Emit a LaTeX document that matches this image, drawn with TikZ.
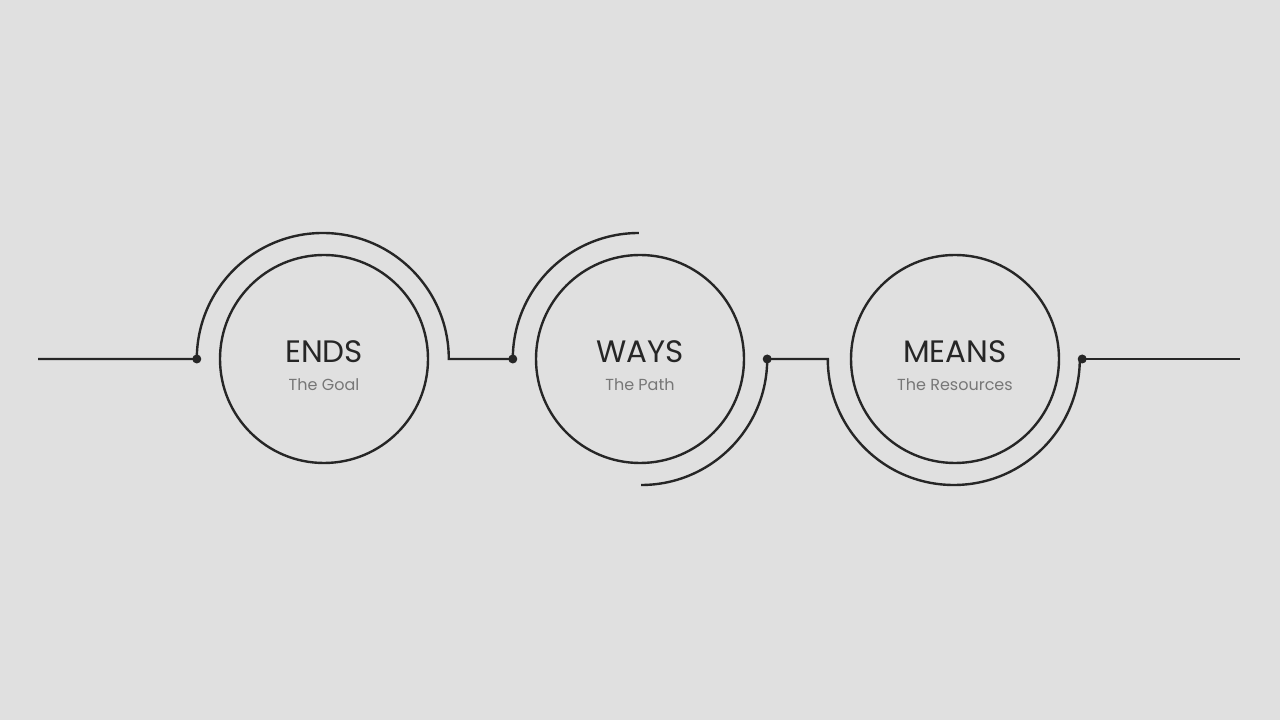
\documentclass[tikz,border=0pt]{standalone}
\usepackage{fontspec}
\setmainfont{Poppins}
\usetikzlibrary{positioning}
\definecolor{bggray}{HTML}{E0E0E0}
\definecolor{ink}{HTML}{262626}
\definecolor{subgray}{HTML}{777777}

\begin{document}
\begin{tikzpicture}[x=1pt,y=1pt,
    ring/.style={circle, draw=ink, line width=2.4pt, minimum size=208pt, inner sep=0pt},
    wire/.style={draw=ink, line width=2.4pt},
    title/.style={font=\fontsize{31}{32}\selectfont, text=ink, inner sep=0pt, anchor=base},
    subtitle/.style={font=\fontsize{16}{17}\selectfont, text=subgray, inner sep=0pt, anchor=base},
    joint/.style={circle, fill=ink, minimum size=9pt, inner sep=0pt}]
        \fill[bggray] (0,0) rectangle (1280,720);
        \useasboundingbox (0,0) rectangle (1280,720);

        % the three rings
        \node[ring] (ends) at (324,361) {};
        \node[ring] (ways) at (640,361) {};
        \node[ring] (means) at (955,361) {};

        \node[title] (endsT) at ([yshift=-4]ends.center) {ENDS};
        \node[subtitle] (endsS) at ([yshift=-32]ends.center) {The Goal};
        \node[title] (waysT) at ([yshift=-4]ways.center) {WAYS};
        \node[subtitle] (waysS) at ([yshift=-32]ways.center) {The Path};
        \node[title] (meansT) at ([yshift=-4]means.center) {MEANS};
        \node[subtitle] (meansS) at ([yshift=-32]means.center) {The Resources};

        % joints on the line
        \coordinate (lineL) at (38,361);
        \coordinate (lineR) at (1240,361);
        \node[joint] (j1) at ([xshift=-22]ends.west) {};
        \node[joint] (j2) at ([xshift=-22]ways.west) {};
        \node[joint] (j3) at ([xshift=22]ways.east) {};
        \node[joint] (j4) at ([xshift=22]means.east) {};

        \draw[wire] (lineL) -- (j1.center) arc[start angle=180, end angle=0, radius=126] -- (j2.center);
        \draw[wire] (j2.center) arc[start angle=180, end angle=90, radius=126];
        \draw[wire] (j3.center) arc[start angle=0, end angle=-90, radius=126];
        \draw[wire] (j3.center) -- ([xshift=-22]means.west) arc[start angle=180, end angle=360, radius=126] -- (j4.center);
        \draw[wire] (j4.center) -- (lineR);
\end{tikzpicture}
\end{document}
